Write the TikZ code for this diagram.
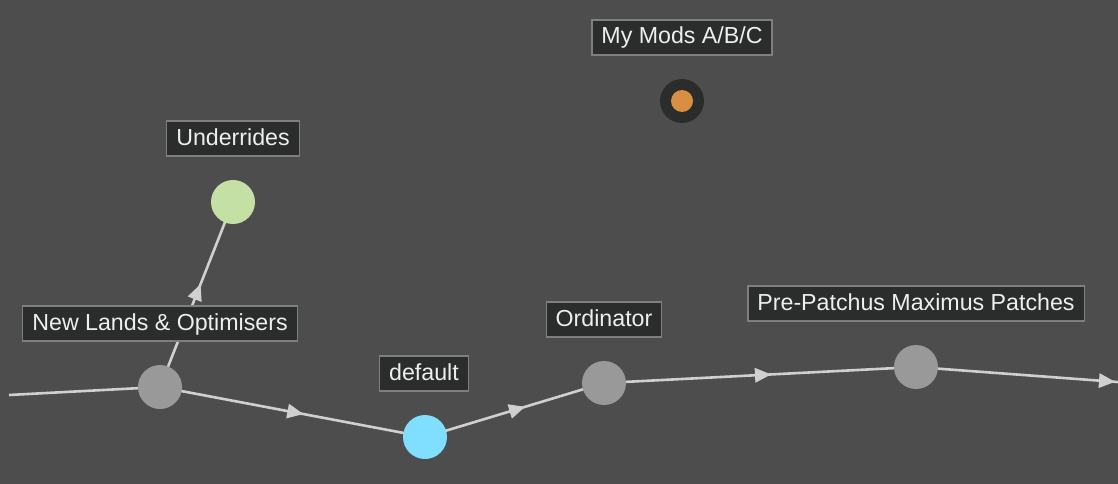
\documentclass[tikz,border=0pt]{standalone}
\usepackage{fontspec}
\setmainfont{Liberation Sans}
\usetikzlibrary{decorations.markings,arrows.meta}
\definecolor{bg}{HTML}{4D4D4D}
\definecolor{edgecol}{HTML}{D0D0D0}
\definecolor{boxfill}{HTML}{2B2D2C}
\definecolor{boxedge}{HTML}{7F7F7F}
\definecolor{txt}{HTML}{EEEEEE}
\definecolor{grey}{HTML}{999999}
\definecolor{blue}{HTML}{80DFFF}
\definecolor{green}{HTML}{C5E0A5}
\definecolor{orange}{HTML}{D88F42}
\pgfdeclarelayer{bglayer}
\pgfdeclarelayer{edgelayer}
\pgfsetlayers{bglayer,edgelayer,main}
\begin{document}
\begin{tikzpicture}[x=1pt,y=-1pt,
  nd/.style={circle,minimum size=44pt,inner sep=0pt},
  lbl/.style={draw=boxedge,fill=boxfill,text=txt,line width=1.2pt,inner xsep=9.5pt,
    minimum height=35pt,text height=17pt,text depth=4pt,font=\fontsize{23.2}{28}\selectfont},
  link/.style={draw=edgecol,line width=2.6pt},
  midarrow/.style={postaction={decorate},decoration={markings,
    mark=at position 0.5 with {\fill[edgecol] (11pt,0pt) -- (-5pt,7.5pt) -- (-5pt,-7.5pt) -- cycle;}}},
]
\begin{pgfonlayer}{bglayer}
\fill[bg] (0,0) rectangle (1118,484);
\end{pgfonlayer}
\useasboundingbox (0,0) rectangle (1118,484);
\clip (0,0) rectangle (1118,484);

\node[nd,fill=grey] (nl) at (160,387) {};
\node[nd,fill=green] (un) at (233,202) {};
\node[nd,fill=blue] (df) at (425,437) {};
\node[nd,fill=grey] (or) at (604,383) {};
\node[nd,fill=grey] (pp) at (916,367) {};
\node[nd,fill=boxfill] (mm) at (682,101) {};
\node[circle,fill=orange,minimum size=22pt,inner sep=0pt] (mmin) at (mm.center) {};
\coordinate (west) at (9,395);
\coordinate (east) at (1292,395);

\begin{pgfonlayer}{edgelayer}
\draw[link] (west) -- (nl.center);
\draw[link,midarrow] (nl.center) -- (un.center);
\draw[link,midarrow] (nl.center) -- (df.center);
\draw[link,midarrow] (df.center) -- (or.center);
\draw[link,midarrow] (or.center) -- (pp.center);
\draw[link,midarrow] (pp.center) -- (east);
\end{pgfonlayer}

\node[lbl] (lnl) at ([yshift=63.5pt]nl.center) {New Lands \& Optimisers};
\node[lbl] (lun) at ([yshift=63.5pt]un.center) {Underrides};
\node[lbl] (ldf) at ([yshift=63.5pt,xshift=-1pt]df.center) {default};
\node[lbl] (lor) at ([yshift=63.5pt]or.center) {Ordinator};
\node[lbl] (lpp) at ([yshift=63.5pt]pp.center) {Pre-Patchus Maximus Patches};
\node[lbl] (lmm) at ([yshift=63.5pt]mm.center) {My Mods A/B/C};
\end{tikzpicture}
\end{document}
